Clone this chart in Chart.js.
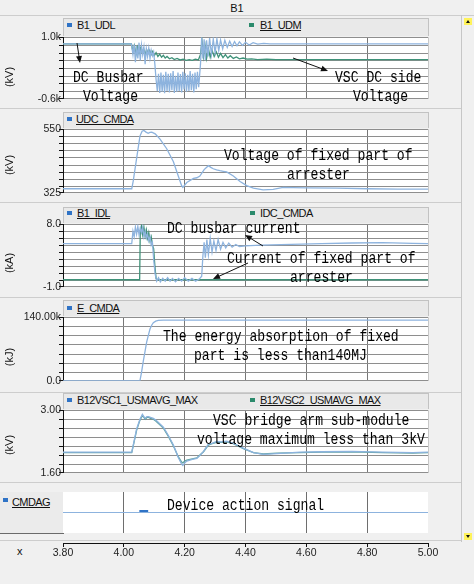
<!DOCTYPE html>
<html>
<head>
<meta charset="utf-8">
<script src="https://cdn.jsdelivr.net/npm/chart.js@4.4.0/dist/chart.umd.min.js"></script>
<style>
  html, body { margin: 0; padding: 0; }
  body { width: 474px; height: 584px; background: #f0f0f0; position: relative; overflow: hidden; font-family: "Liberation Sans", Arial, sans-serif; color: #111; }
  canvas { position: absolute; left: 0; }
  .sep { position: absolute; left: 0; width: 461px; height: 1px; background: #cdcdcd; }
  .legend { position: absolute; left: 63px; width: 366px; background: #e9e9e9; border: 1px solid #c2c2c2; border-bottom: none; box-sizing: border-box; }
  .item { position: absolute; font-size: 11px; letter-spacing: -0.6px; line-height: 12px; white-space: nowrap; }
  .sw { position: absolute; width: 5px; height: 4px; }
  .u { text-decoration: underline; }
</style>
</head>
<body>
<div style="position:absolute;left:0;top:2px;width:474px;text-align:center;font-size:11px;">B1</div>
<div class="sep" style="top:15px;width:474px"></div>
<div class="sep" style="top:108px"></div>
<div class="sep" style="top:202px"></div>
<div class="sep" style="top:297px"></div>
<div class="sep" style="top:392px"></div>
<div class="sep" style="top:482px"></div>
<div class="sep" style="top:540px"></div>

<!-- scrollbar -->
<div style="position:absolute;left:461px;top:15px;width:13px;height:527px;border-left:1px solid #c6c6c6;box-sizing:border-box;"></div>
<div style="position:absolute;left:464px;top:18px;width:8px;height:7px;background:#fff35a;"></div>
<div style="position:absolute;left:466px;top:20px;width:0;height:0;border-left:2px solid transparent;border-right:2px solid transparent;border-bottom:3px solid #111;"></div>
<div style="position:absolute;left:464px;top:533px;width:8px;height:7px;background:#fff35a;"></div>
<div style="position:absolute;left:466px;top:535px;width:0;height:0;border-left:2px solid transparent;border-right:2px solid transparent;border-top:3px solid #111;"></div>

<!-- legends -->
<div class="legend" style="top:18px;height:18px"></div>
<div class="sw" style="left:67px;top:23px;background:#2f73c6"></div>
<div class="item" style="left:77px;top:19px">B1_UDL</div>
<div class="sw" style="left:249px;top:23px;background:#2b8a6c"></div>
<div class="item u" style="left:260px;top:19px">B1_UDM</div>

<div class="legend" style="top:112px;height:16px"></div>
<div class="sw" style="left:67px;top:117px;background:#2f73c6"></div>
<div class="item u" style="left:76px;top:113px">UDC_CMDA</div>

<div class="legend" style="top:207px;height:16px"></div>
<div class="sw" style="left:67px;top:211px;background:#2f73c6"></div>
<div class="item u" style="left:77px;top:207px">B1_IDL</div>
<div class="sw" style="left:250px;top:211px;background:#2b8a6c"></div>
<div class="item" style="left:260px;top:207px">IDC_CMDA</div>

<div class="legend" style="top:300px;height:16px"></div>
<div class="sw" style="left:67px;top:306px;background:#2f73c6"></div>
<div class="item u" style="left:77px;top:302px">E_CMDA</div>

<div class="legend" style="top:393px;height:16px"></div>
<div class="sw" style="left:67px;top:398px;background:#2f73c6"></div>
<div class="item" style="left:77px;top:394px">B12VSC1_USMAVG_MAX</div>
<div class="sw" style="left:250px;top:398px;background:#2b8a6c"></div>
<div class="item u" style="left:260px;top:394px">B12VSC2_USMAVG_MAX</div>

<div style="position:absolute;left:0;top:492px;width:64px;height:42px;background:#ebebeb;border-right:1px solid #6a6a6a;border-bottom:1px solid #6a6a6a;box-sizing:border-box;"></div>
<div class="sw" style="left:3px;top:498px;background:#2f73c6"></div>
<div class="item u" style="left:12px;top:496px">CMDAG</div>
<div style="position:absolute;left:17px;top:545px;font-size:11px;">x</div>

<canvas id="c1"></canvas>
<canvas id="c2"></canvas>
<canvas id="c3"></canvas>
<canvas id="c4"></canvas>
<canvas id="c5"></canvas>
<canvas id="c6"></canvas>
<canvas id="cx"></canvas>
<canvas id="notes" width="474" height="584" style="top:0;pointer-events:none"></canvas>

<script>
const timeTicks = [3.8, 4.0, 4.2, 4.4, 4.6, 4.8, 5.0];

// B1 busbar / VSC side voltages (kV)
const udlT = [3.80, 4.025, 4.030, 4.034, 4.038, 4.042, 4.046, 4.050, 4.054, 4.058, 4.062, 4.066, 4.070, 4.074, 4.078, 4.082, 4.086, 4.090, 4.094, 4.098, 4.102, 4.106,
  4.110, 4.114, 4.118, 4.122, 4.126, 4.130, 4.134, 4.138, 4.142, 4.146, 4.150, 4.154, 4.158, 4.162, 4.166, 4.170, 4.174, 4.178, 4.182, 4.186, 4.190, 4.194, 4.198, 4.202, 4.206, 4.210, 4.214, 4.218, 4.222, 4.226, 4.230, 4.234, 4.238, 4.242, 4.246,
  4.252, 4.256, 4.260, 4.264, 4.268, 4.272, 4.277, 4.282, 4.288, 4.294, 4.300, 4.306, 4.312, 4.318, 4.325, 4.332, 4.340, 4.348, 4.356, 4.364, 4.372, 4.380, 4.390, 4.400, 4.412, 4.425, 4.440, 4.460, 4.480, 5.00];
const udlV = [830, 830, 550, 820, 350, 780, 450, 860, 400, 800, 550, 750, 300, 700, 500, 720, 450, 660, 520, 620, 300, -100,
  -400, 50, -450, 80, -420, 20, -460, 100, -400, 50, -440, 60, -380, 120, -450, 0, -420, 80, -400, 40, -440, 100, -360, 60, -420, 20, -400, 120, -380, 50, -440, 80, -350, 100, -300,
  300, 1000, 450, 950, 400, 920, 500, 980, 550, 950, 600, 960, 650, 930, 700, 920, 740, 900, 760, 890, 780, 880, 790, 870, 800, 860, 820, 840, 830, 830];
const udmT = [3.80, 4.025, 4.030, 4.035, 4.040, 4.045, 4.050, 4.055, 4.060, 4.065, 4.070, 4.075, 4.080, 4.085, 4.090, 4.095, 4.100, 4.106, 4.112, 4.118, 4.124, 4.130, 4.136, 4.142, 4.150, 4.158, 4.166, 4.175, 4.185, 4.195, 4.205, 4.215, 4.225, 4.235, 4.245,
  4.252, 4.257, 4.262, 4.267, 4.272, 4.278, 4.284, 4.290, 4.297, 4.304, 4.311, 4.318, 4.326, 4.334, 4.342, 4.350, 4.360, 4.370, 4.380, 4.392, 4.405, 4.420, 4.440, 4.470, 4.500, 5.00];
const udmV = [830, 830, 620, 780, 550, 740, 580, 720, 600, 700, 560, 680, 580, 660, 550, 630, 520, 600, 500, 560, 480, 530, 460, 500, 440, 470, 420, 450, 410, 430, 400, 420, 400, 430, 410,
  550, 900, 500, 780, 450, 700, 480, 660, 500, 620, 480, 580, 470, 550, 460, 520, 450, 490, 440, 460, 430, 440, 420, 430, 420, 420];
const udTicks = [-600, -400, -200, 0, 200, 400, 600, 800, 1000];
const udLabels = ["-0.6k", "1.0k"];

// arrester fixed part voltage (kV)
const udcT = [3.80, 4.026, 4.031, 4.042, 4.053, 4.060, 4.066, 4.073, 4.080, 4.086, 4.092, 4.103, 4.119, 4.141, 4.163, 4.179, 4.190, 4.194, 4.207, 4.229,
  4.240, 4.250, 4.264, 4.278, 4.286, 4.294, 4.305, 4.316, 4.327, 4.338, 4.360, 4.382, 4.404, 4.426, 4.458, 4.491, 4.524, 4.557, 4.600, 4.700, 4.800, 4.900, 5.00];
const udcV = [339, 339, 367, 447, 526, 543, 546, 540, 536, 539, 540, 534, 515, 481, 435, 384, 350, 344, 361, 376,
  378, 384, 407, 421, 415, 410, 406, 403, 401, 399, 384, 365, 350, 341, 335, 337, 344, 343, 342, 341, 339, 338, 338];
const udcTicks = [325, 350, 375, 400, 425, 450, 475, 500, 525, 550];
const udcLabels = ["325", "550"];

// busbar current and arrester current (kA)
const idlT = [3.80, 4.026, 4.030, 4.034, 4.038, 4.042, 4.046, 4.050, 4.054, 4.058, 4.062, 4.066, 4.070, 4.074, 4.078, 4.082, 4.086, 4.090, 4.094, 4.098,
  4.103, 4.108, 4.114, 4.120, 4.128, 4.136, 4.144, 4.152, 4.160, 4.170, 4.180, 4.190, 4.200, 4.212, 4.224, 4.236, 4.248, 4.256, 4.260, 4.264,
  4.268, 4.273, 4.278, 4.284, 4.290, 4.296, 4.303, 4.310, 4.318, 4.326, 4.335, 4.345, 4.356, 4.368, 4.380, 4.400, 4.450, 4.550, 4.650, 4.750, 4.850, 4.950, 5.00];
const idlV = [5.2, 5.2, 7.0, 6.2, 7.6, 6.6, 7.7, 6.5, 7.5, 6.8, 7.6, 6.2, 7.0, 6.0, 6.6, 5.6, 6.2, 5.0, 5.4, 3.0,
  0.8, -0.2, 0.3, -0.3, 0.2, -0.2, 0.3, -0.2, 0.2, -0.3, 0.2, -0.2, 0.3, -0.2, 0.2, -0.2, 0.1, 0.5, 3.5, 5.4,
  3.2, 5.8, 3.6, 6.0, 4.0, 5.6, 4.2, 5.8, 4.4, 5.4, 4.6, 5.3, 4.7, 5.1, 4.8, 4.9, 5.0, 5.1, 5.2, 5.3, 5.35, 5.25, 5.2];
const idcT = [3.80, 4.052, 4.054, 4.058, 4.062, 4.066, 4.070, 4.074, 4.078, 4.082, 4.086, 4.090, 4.094, 4.098, 4.102, 4.106, 4.110, 5.00];
const idcV = [0, 0, 6.8, 7.7, 6.5, 7.6, 6.3, 7.2, 6.0, 6.8, 5.6, 6.2, 5.0, 4.5, 2.0, 0.2, 0, 0];
const idTicks = [-1, 0, 1, 2, 3, 4, 5, 6, 7, 8];
const idLabels = ["-1.0", "8.0"];

// arrester energy (kJ)
const eT = [3.80, 4.053, 4.058, 4.064, 4.070, 4.075, 4.081, 4.086, 4.092, 4.097, 4.105, 4.113, 4.130, 5.00];
const eV = [0, 0, 18000, 43000, 66000, 85000, 101000, 114000, 123000, 128000, 131500, 133000, 133600, 133600];
const eTicks = [0, 20000, 40000, 60000, 80000, 100000, 120000, 140000];
const eLabels = ["0.0", "140.00k"];

// sub-module max voltage (kV)
const usmT = [3.80, 4.026, 4.031, 4.042, 4.053, 4.061, 4.066, 4.070, 4.076, 4.081, 4.088, 4.097, 4.105, 4.113, 4.130, 4.146, 4.163, 4.179, 4.190, 4.194,
  4.200, 4.207, 4.225, 4.240, 4.252, 4.262, 4.278, 4.290, 4.305, 4.320, 4.338, 4.360, 4.393, 4.426, 4.459, 4.503, 4.579, 4.650, 4.750, 4.850, 4.950, 5.00];
const vsc1V = [2.06, 2.06, 2.22, 2.58, 2.80, 2.91, 2.86, 2.82, 2.86, 2.86, 2.84, 2.82, 2.78, 2.73, 2.62, 2.44, 2.22, 1.94, 1.79, 1.76,
  1.82, 1.86, 1.90, 1.92, 2.00, 2.08, 2.24, 2.26, 2.30, 2.29, 2.31, 2.26, 2.15, 2.05, 2.01, 2.03, 2.06, 2.07, 2.08, 2.06, 2.05, 2.06];
const vsc2V = [2.05, 2.05, 2.20, 2.55, 2.78, 2.88, 2.84, 2.80, 2.84, 2.84, 2.82, 2.80, 2.76, 2.71, 2.60, 2.42, 2.20, 1.96, 1.84, 1.82,
  1.86, 1.88, 1.91, 1.93, 2.01, 2.07, 2.22, 2.25, 2.28, 2.28, 2.29, 2.25, 2.14, 2.05, 2.02, 2.04, 2.05, 2.06, 2.07, 2.05, 2.04, 2.05];
const usmTicks = [1.6, 1.8, 2.0, 2.2, 2.4, 2.6, 2.8, 3.0];
const usmLabels = ["1.60", "3.00"];

// device action signal
const cmdagT = [3.80, 5.00];
const cmdagV = [0, 0];
const pulseT = [4.051, 4.080];
const pulseV = [0.05, 0.05];

// annotation texts: [text, left, centre y]
const notes = [
  ["DC Busbar", 73, 76], ["Voltage", 83, 95], ["VSC DC side", 335, 76], ["Voltage", 353, 95],
  ["Voltage of fixed part of", 224, 154], ["arrester", 287, 173],
  ["DC busbar current", 167, 227], ["Current of fixed part of", 227, 257], ["arrester", 290, 276],
  ["The energy absorption of fixed", 163, 335], ["part is less than140MJ", 194, 354],
  ["VSC bridge arm sub-module", 213, 419], ["voltage maximum less than 3kV", 197, 438],
  ["Device action signal", 167, 504],
];
const arrows = [[77, 43, 80, 63], [293, 58, 328, 71], [263, 246, 245, 235], [248, 263, 213, 279]];
const yTitles = [["(kV)", 77], ["(kV)", 165], ["(kA)", 263], ["(kJ)", 357], ["(kV)", 445]];

const BLUE = "#8db3de";
const GREEN = "#3f9279";
const HGRID = "#8e8e8e";

Chart.defaults.font.family = "Liberation Sans";

const plotBg = {
  id: "plotBg",
  beforeDraw(chart) {
    const { ctx, chartArea: a } = chart;
    ctx.save();
    ctx.fillStyle = "#ffffff";
    ctx.fillRect(a.left, a.top, a.width, a.height);
    ctx.restore();
  },
};

// horizontal grid rows + left tick marks at every y tick of the scale
const yGridLines = {
  id: "yGridLines",
  beforeDatasetsDraw(chart) {
    const y = chart.scales.y;
    const { ctx, chartArea: a } = chart;
    ctx.save();
    y.ticks.forEach((t) => {
      const py = Math.min(Math.round(y.getPixelForValue(t.value)), Math.round(a.bottom) - 1);
      ctx.fillStyle = HGRID;
      ctx.fillRect(Math.round(a.left) + 1, py, Math.round(a.width) - 1, 1);
      ctx.fillStyle = "#111";
      ctx.fillRect(Math.round(a.left) - 4, py, 4, 1);
    });
    ctx.restore();
  },
};

function points(t, v) {
  return t.map((x, i) => ({ x, y: v[i] }));
}

function series(t, v, color, width = 1.3) {
  return { data: points(t, v), borderColor: color, borderWidth: width, pointRadius: 0, tension: 0, fill: false };
}

function xGrid(dark) {
  return (c) => (c.index === timeTicks.length - 1 ? "#c8c8c8" : dark);
}

function makePanel(id, plotTop, plotBottom, yTicks, yLabels, datasets) {
  const pad = 7;
  const canvas = document.getElementById(id);
  canvas.width = 461;
  canvas.height = plotBottom - plotTop + pad * 2;
  canvas.style.top = `${plotTop - pad}px`;
  const last = yTicks.length - 1;

  return new Chart(canvas, {
    type: "line",
    data: { datasets },
    options: {
      responsive: false,
      animation: false,
      events: [],
      layout: { padding: { top: pad, bottom: pad, left: 0, right: 33 } },
      plugins: { legend: { display: false }, tooltip: { enabled: false } },
      scales: {
        x: {
          type: "linear",
          min: 3.8,
          max: 5.0,
          afterBuildTicks: (s) => { s.ticks = timeTicks.map((v) => ({ value: v })); },
          afterFit: (s) => { s.height = 0; },
          ticks: { display: false },
          border: { display: false },
          grid: { drawTicks: false, color: xGrid("#777777") },
        },
        y: {
          type: "linear",
          min: yTicks[0],
          max: yTicks[last],
          afterBuildTicks: (s) => { s.ticks = yTicks.map((v) => ({ value: v })); },
          afterFit: (s) => { s.width = 63; },
          ticks: {
            autoSkip: false,
            padding: 2,
            color: "#222",
            font: { size: 10.5 },
            callback: (v, i) => (i === 0 ? yLabels[0] : i === last ? yLabels[1] : ""),
          },
          border: { color: "#111" },
          grid: { display: false, drawTicks: false },
        },
      },
    },
    plugins: [plotBg, yGridLines],
  });
}

makePanel("c1", 36, 100, udTicks, udLabels, [series(udlT, udlV, BLUE), series(udmT, udmV, GREEN)]);
makePanel("c2", 128, 194, udcTicks, udcLabels, [series(udcT, udcV, BLUE)]);
makePanel("c3", 223, 288, idTicks, idLabels, [series(idlT, idlV, BLUE), series(idcT, idcV, GREEN)]);
makePanel("c4", 316, 382, eTicks, eLabels, [series(eT, eV, BLUE)]);
makePanel("c5", 409, 474, usmTicks, usmLabels, [series(usmT, vsc1V, BLUE), series(usmT, vsc2V, "#5fa3a0")]);

// signal panel: no y axis, white strip
(function () {
  const canvas = document.getElementById("c6");
  canvas.width = 461;
  canvas.height = 41;
  canvas.style.top = "492px";
  new Chart(canvas, {
    type: "line",
    data: { datasets: [series(cmdagT, cmdagV, BLUE, 1), series(pulseT, pulseV, "#2f73c6", 3)] },
    options: {
      responsive: false,
      animation: false,
      events: [],
      layout: { padding: { top: 0, bottom: 0, left: 63, right: 33 } },
      plugins: { legend: { display: false }, tooltip: { enabled: false } },
      scales: {
        x: {
          type: "linear",
          min: 3.8,
          max: 5.0,
          afterBuildTicks: (s) => { s.ticks = timeTicks.map((v) => ({ value: v })); },
          afterFit: (s) => { s.height = 0; },
          ticks: { display: false },
          border: { display: false },
          grid: { drawTicks: false, color: (c) => (c.index === 0 || c.index === timeTicks.length - 1 ? "rgba(0,0,0,0)" : "#6e6e6e") },
        },
        y: { display: false, min: -1, max: 1 },
      },
    },
    plugins: [plotBg],
  });
})();

// shared time axis
(function () {
  const canvas = document.getElementById("cx");
  canvas.width = 461;
  canvas.height = 30;
  canvas.style.top = "535px";
  new Chart(canvas, {
    type: "line",
    data: { datasets: [] },
    options: {
      responsive: false,
      animation: false,
      events: [],
      layout: { padding: { top: 0, bottom: 0, left: 63, right: 33 } },
      plugins: { legend: { display: false }, tooltip: { enabled: false } },
      scales: {
        x: {
          type: "linear",
          min: 3.8,
          max: 5.0,
          afterBuildTicks: (s) => { s.ticks = timeTicks.map((v) => ({ value: v })); },
          afterFit: (s) => { s.height = 22; },
          ticks: { padding: 0, color: "#222", font: { size: 10.5 }, maxRotation: 0, callback: (v) => Number(v).toFixed(2) },
          border: { color: "#111" },
          grid: { drawOnChartArea: false, tickColor: "#111", tickLength: 4 },
        },
        y: { display: false, min: 0, max: 1 },
      },
    },
  });
})();

// annotation layer: notes, arrows and rotated unit titles
(function () {
  const ctx = document.getElementById("notes").getContext("2d");
  ctx.fillStyle = "#000";
  ctx.font = '13.1px "Liberation Mono"';
  ctx.textBaseline = "alphabetic";
  notes.forEach(([text, x, cy]) => {
    ctx.save();
    ctx.translate(x, cy + 5.6);
    ctx.scale(1, 1.3);
    ctx.fillText(text, 0, 0);
    ctx.restore();
  });

  ctx.strokeStyle = "#111";
  ctx.lineWidth = 1;
  arrows.forEach(([x1, y1, x2, y2]) => {
    const ang = Math.atan2(y2 - y1, x2 - x1);
    ctx.beginPath();
    ctx.moveTo(x1, y1);
    ctx.lineTo(x2 - 5 * Math.cos(ang), y2 - 5 * Math.sin(ang));
    ctx.stroke();
    ctx.save();
    ctx.translate(x2, y2);
    ctx.rotate(ang);
    ctx.beginPath();
    ctx.moveTo(0, 0);
    ctx.lineTo(-7, -3);
    ctx.lineTo(-7, 3);
    ctx.closePath();
    ctx.fillStyle = "#111";
    ctx.fill();
    ctx.restore();
  });

  ctx.font = '11px "Liberation Sans"';
  ctx.fillStyle = "#111";
  ctx.textAlign = "center";
  ctx.textBaseline = "middle";
  yTitles.forEach(([text, cy]) => {
    ctx.save();
    ctx.translate(10, cy);
    ctx.rotate(-Math.PI / 2);
    ctx.fillText(text, 0, 0);
    ctx.restore();
  });
})();
</script>
</body>
</html>
